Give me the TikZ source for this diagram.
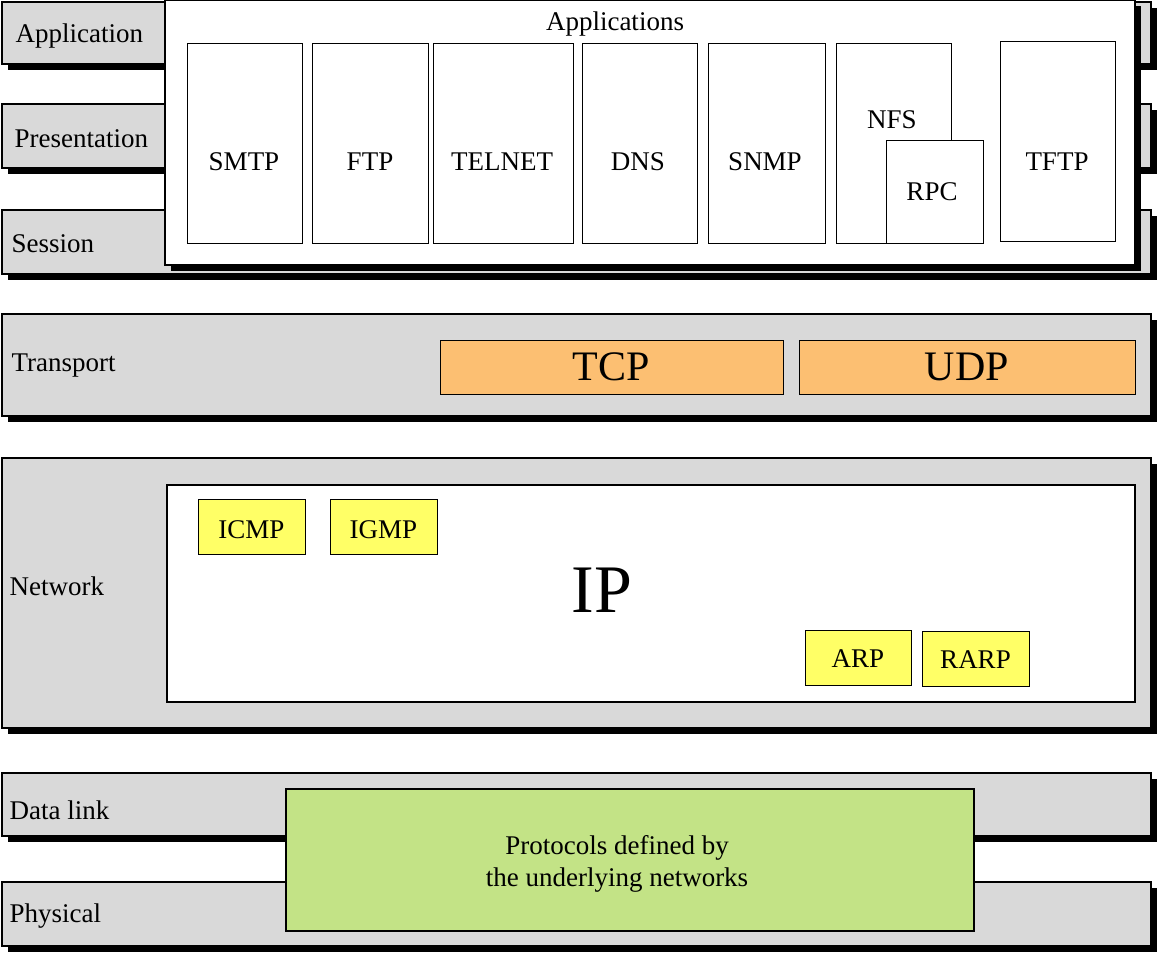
\documentclass[tikz,border=0pt]{standalone}
\usepackage{fontspec}
\setmainfont{Liberation Serif}
\definecolor{torange}{HTML}{FCBF72}
\definecolor{tyellow}{HTML}{FFFF66}
\definecolor{tgreen}{HTML}{C3E386}
\definecolor{tgray}{HTML}{D9D9D9}
\begin{document}
\begin{tikzpicture}[x=1pt,y=-1pt,
  bar/.style={draw,line width=1.2pt,fill=tgray},
  shad/.style={fill=black},
  wbox/.style={draw,line width=1.2pt,fill=white},
  ibox/.style={draw,line width=1pt,fill=white},
  tx/.style={font=\fontsize{27}{30}\selectfont},
  lab/.style={anchor=west,font=\fontsize{27}{30}\selectfont},
  tbox/.style={draw,line width=1pt,fill=torange},
  ybox/.style={draw,line width=1pt,fill=tyellow}]
\useasboundingbox (0,0) rectangle (1160,955);
\foreach \a/\b in {2/64,104/168,210/274,314/416,458/728,773/836,882/946}{
  \fill[shad] (8,\a+6) rectangle (1157,\b+6);
  \draw[bar] (2,\a) rectangle (1151,\b);}
\node[lab] (lapp) at (12,36) {Application};
\node[lab] (lpre) at (11,139) {Presentation};
\node[lab] (lses) at (8,244) {Session};
\node[lab] (ltra) at (8,366) {Transport};
\node[lab] (lnet) at (6,586) {Network};
\node[lab] (ldl) at (6,810) {Data link};
\node[lab] (lph) at (6,916) {Physical};
\fill[shad] (171,6) rectangle (1141,271);
\draw[wbox] (165,0) rectangle (1135,265);
\node[tx] (apps) at (615,24) {Applications};
\draw[ibox] (187,44) rectangle (302,243);
\draw[ibox] (312,44) rectangle (428,243);
\draw[ibox] (433,44) rectangle (573,243);
\draw[ibox] (582,44) rectangle (697,243);
\draw[ibox] (708,44) rectangle (825,243);
\draw[ibox] (836,44) rectangle (951,243);
\draw[ibox] (886,141) rectangle (983,243);
\draw[ibox] (1000,42) rectangle (1115,241);
\node[tx] (smtp) at (244,162) {SMTP};
\node[tx] (ftp) at (370,162) {FTP};
\node[tx] (tel) at (502,162) {TELNET};
\node[tx] (dns) at (638,162) {DNS};
\node[tx] (snmp) at (765,162) {SNMP};
\node[tx] (nfs) at (892,120) {NFS};
\node[tx] (rpc) at (932,192) {RPC};
\node[tx] (tftp) at (1057,162) {TFTP};
\draw[tbox] (440,340) rectangle node[font=\fontsize{42}{46}\selectfont] (tcp) {TCP} (783,394);
\draw[tbox] (799,340) rectangle node[font=\fontsize{42}{46}\selectfont] (udp) {UDP} (1135,394);
\draw[wbox] (167,485) rectangle (1135,702);
\node[font=\fontsize{68}{72}\selectfont] (ip) at (602,590) {IP};
\draw[ybox] (198,499) rectangle node[tx,yshift=-3] (icmp) {ICMP} (305,554);
\draw[ybox] (330,499) rectangle node[tx,yshift=-3] (igmp) {IGMP} (437,554);
\draw[ybox] (805,630) rectangle node[tx,yshift=-1] (arp) {ARP} (911,685);
\draw[ybox] (922,631) rectangle node[tx,yshift=-1] (rarp) {RARP} (1029,686);
\draw[line width=1.2pt,fill=tgreen] (286,789) rectangle (974,931);
\node[align=center,font=\fontsize{27}{32}\selectfont] (prot) at (617,864) {Protocols defined by\\the underlying networks};
\end{tikzpicture}
\end{document}
